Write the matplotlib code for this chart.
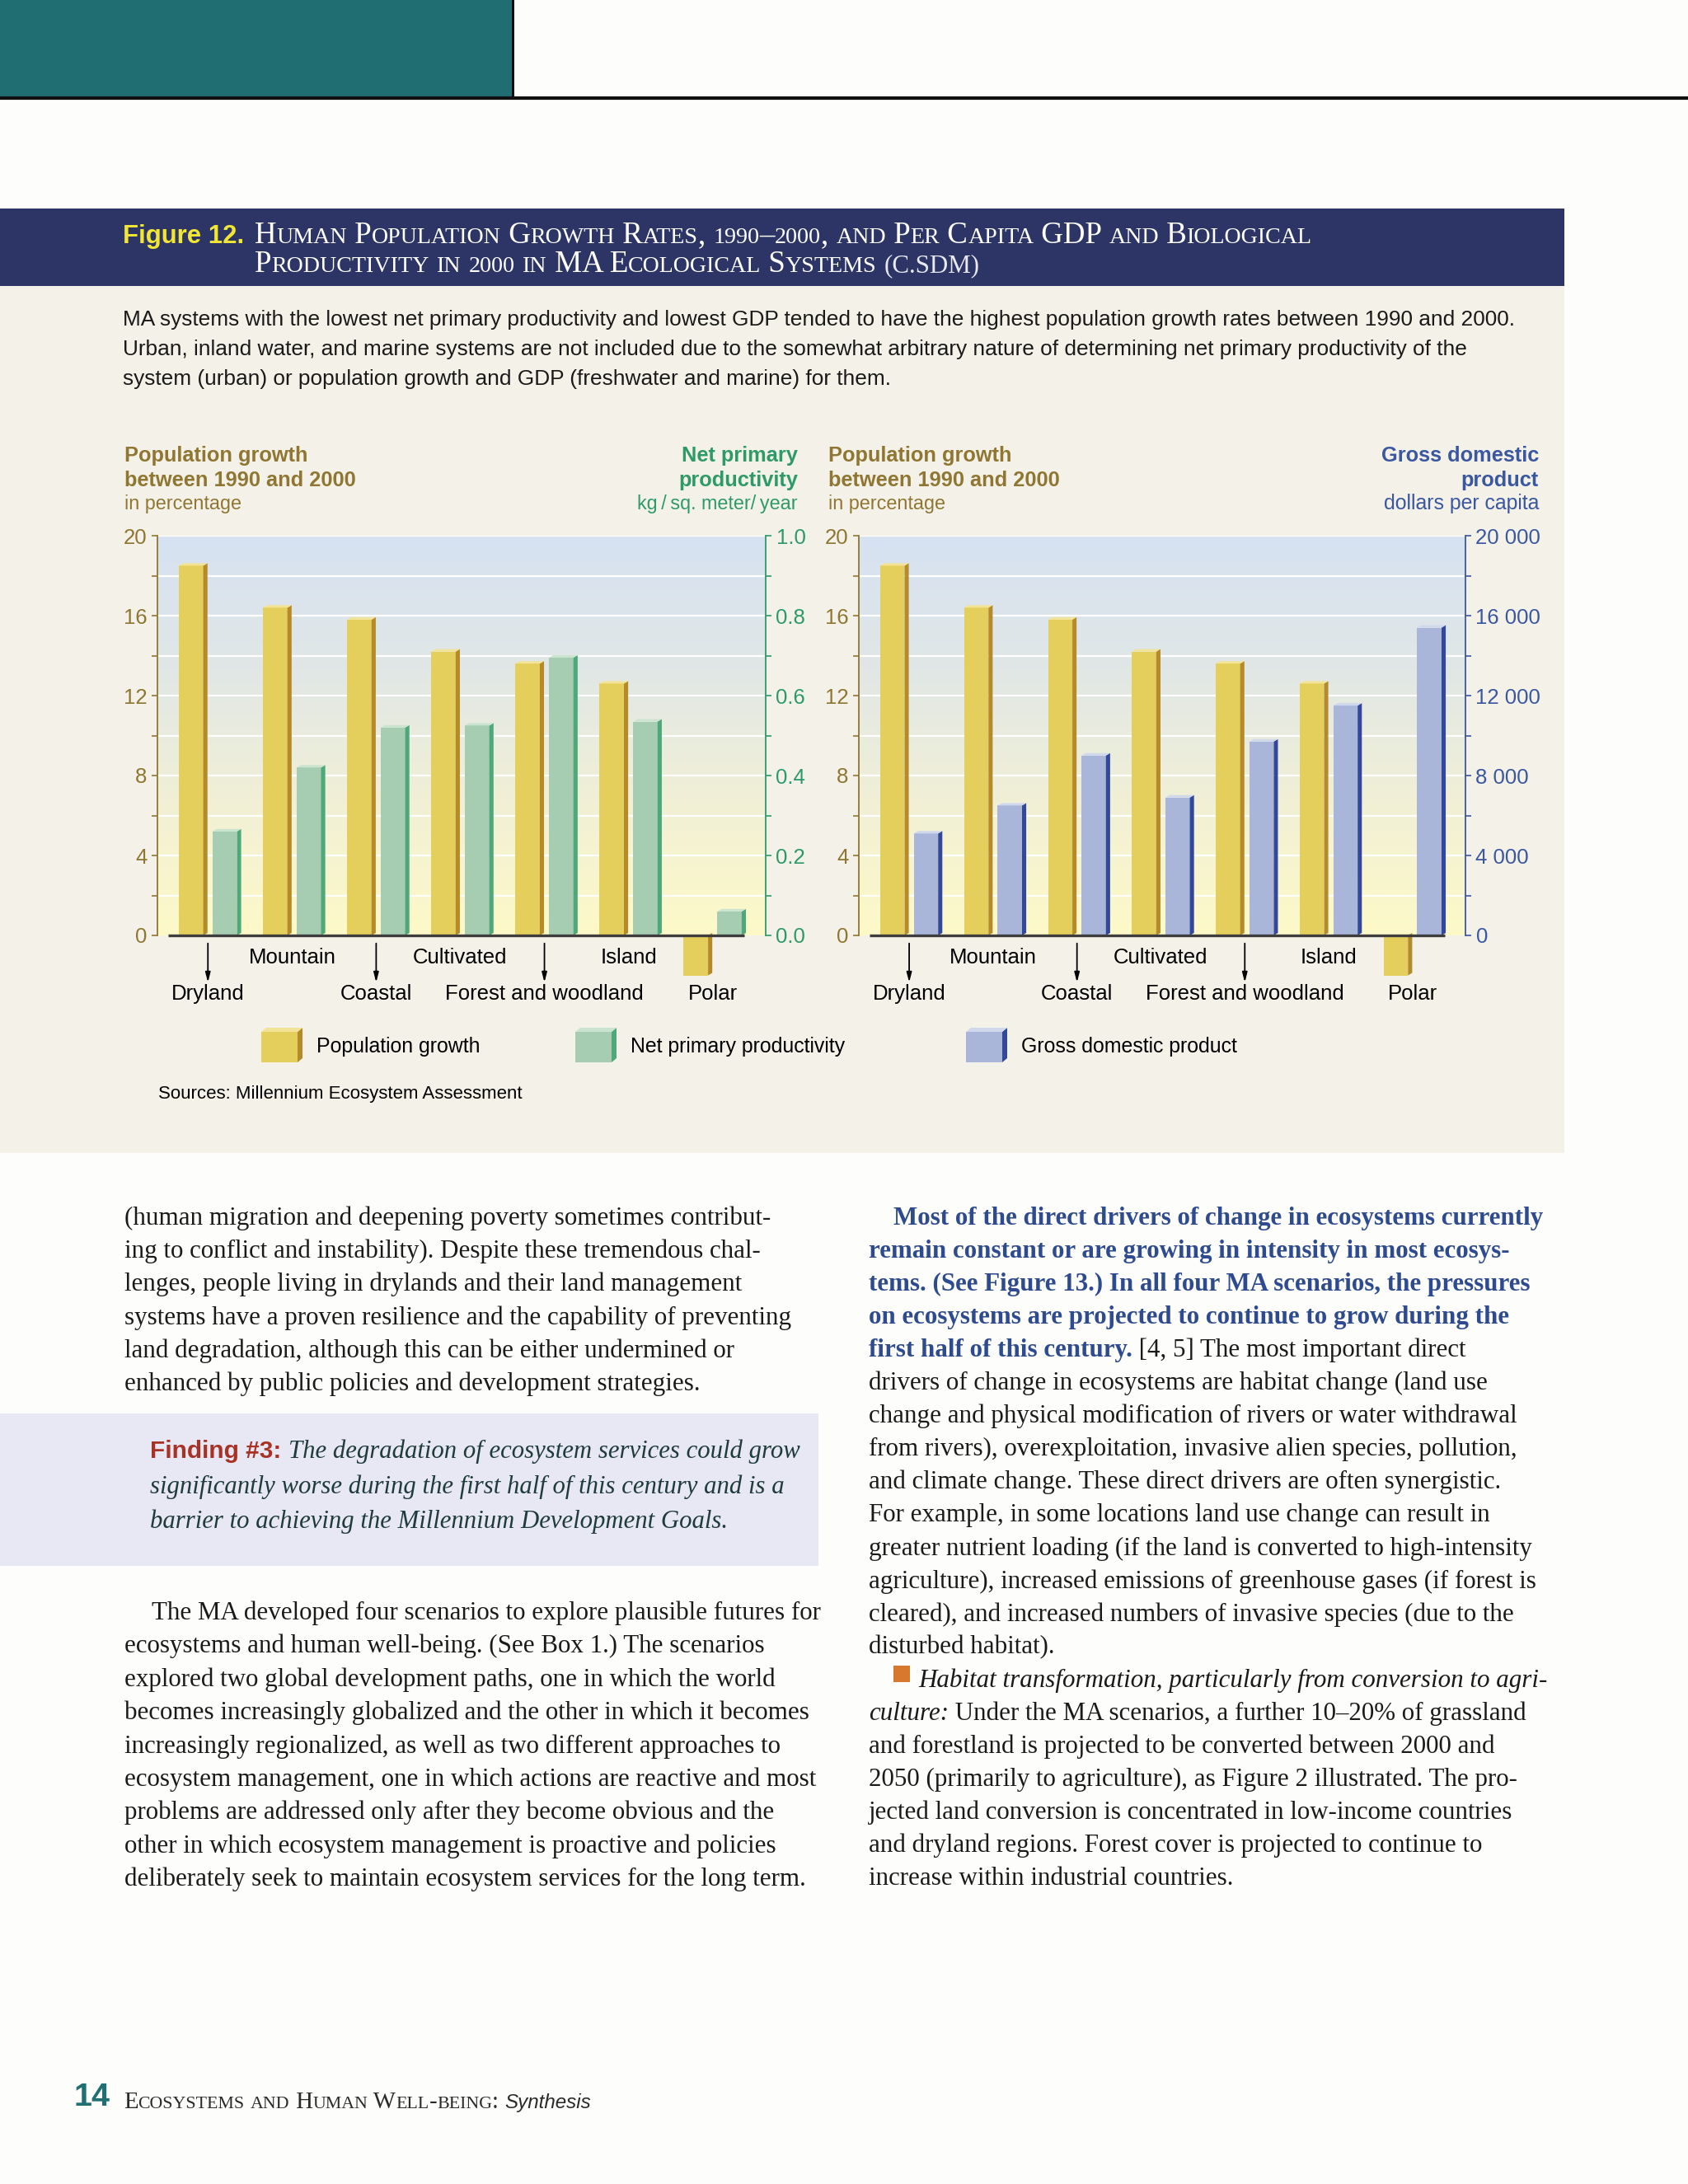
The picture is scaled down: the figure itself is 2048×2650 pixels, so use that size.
import numpy as np
import matplotlib.pyplot as plt
from matplotlib.colors import LinearSegmentedColormap
from matplotlib.patches import Rectangle
from matplotlib.ticker import FixedLocator, FuncFormatter

# ---- data ----
systems = ['Dryland', 'Mountain', 'Coastal', 'Cultivated',
           'Forest and woodland', 'Island', 'Polar']
pop_growth = [18.5, 16.4, 15.8, 14.2, 13.6, 12.6, -2.0]      # percent
npp = [0.26, 0.42, 0.52, 0.525, 0.695, 0.535, 0.06]         # kg/sq. meter/year
gdp = [5100, 6500, 9000, 6900, 9700, 11500, 15400]          # dollars per capita
lower_row = [True, False, True, False, True, False, True]
has_arrow = [True, False, True, False, True, False, False]

SANS = 'Liberation Sans'
SERIF = 'Liberation Serif'
OLIVE = '#8f7632'
GREEN = '#2e9a68'
BLUE = '#3a57a0'
TXT = '#1a1a1a'

YEL = ('#e5cf5c', '#b48a2a', '#f2e397')
GRN = ('#a6ccb1', '#4fa87a', '#cae4d0')
BLU = ('#a9b6da', '#33489a', '#d0d8ee')

fig = plt.figure(figsize=(20.48, 26.5), dpi=100)
fig.patch.set_facecolor('#fdfefc')
page = fig.add_axes([0, 0, 1, 1])
page.set_xlim(0, 2048)
page.set_ylim(2650, 0)
page.axis('off')
R = fig.canvas.get_renderer()


def adv(s, **kw):
    t = page.text(0, 0, '|' + s + '|', **kw)
    t0 = page.text(0, 0, '||', **kw)
    w = t.get_window_extent(R).width - t0.get_window_extent(R).width
    t.remove()
    t0.remove()
    return w


def fit(s, width, **kw):
    return 10 * width / adv(s, fontsize=10, **kw)


def runs(x, y, parts):
    for s, kw in parts:
        page.text(x, y, s, va='baseline', ha='left', **kw)
        x += adv(s, **kw)
    return x


def small_caps(s, big, small, **kw):
    parts = []
    for ch in s:
        sz = small if (ch.islower() or ch.isdigit()) else big
        c = ch.upper()
        if parts and parts[-1][1] == sz:
            parts[-1] = (parts[-1][0] + c, sz)
        else:
            parts.append((c, sz))
    return [(t, dict(fontsize=sz, **kw)) for t, sz in parts]


# ---- page furniture ----
page.add_patch(Rectangle((0, 0), 622, 118, fc='#216e72', ec='none'))
page.plot([622, 622], [0, 118], color='black', lw=2)
page.plot([0, 2048], [119, 119], color='#111111', lw=3)
page.add_patch(Rectangle((0, 253), 1898, 94, fc='#2c3566', ec='none'))
page.add_patch(Rectangle((0, 347), 1898, 1052, fc='#f4f2e8', ec='none'))
page.add_patch(Rectangle((0, 1715), 993, 185, fc='#e7e8f4', ec='none'))

# banner title
fsz = fit('Figure 12.', 148, family=SANS, fontweight='bold')
runs(149, 295, [('Figure 12.', dict(family=SANS, fontweight='bold', fontsize=fsz, color='#f1e634'))])
t1 = 'Human Population Growth Rates, 1990\u20132000, and Per Capita GDP and Biological'
base = sum(adv(s, **k) for s, k in small_caps(t1, 10, 7.6, family=SERIF))
k = 1279 / base
runs(309, 295, small_caps(t1, 10 * k, 7.6 * k, family=SERIF, color='white'))
x = runs(309, 330, small_caps('Productivity in 2000 in MA Ecological Systems ', 10 * k, 7.6 * k,
                               family=SERIF, color='white'))
runs(x, 330, [('(C.SDM)', dict(family=SERIF, fontsize=8.4 * k, color='#e8e8f0'))])

# caption
cap = ['MA systems with the lowest net primary productivity and lowest GDP tended to have the highest population growth rates between 1990 and 2000.',
       'Urban, inland water, and marine systems are not included due to the somewhat arbitrary nature of determining net primary productivity of the',
       'system (urban) or population growth and GDP (freshwater and marine) for them.']
csz = fit(cap[0], 1696, family=SANS)
for i, line in enumerate(cap):
    page.text(149, 395 + 36 * i, line, family=SANS, fontsize=csz, color=TXT, va='baseline')

# ---- charts ----
bg = LinearSegmentedColormap.from_list('bg', ['#fdf9c8', '#f1f0d6', '#e1e7e6', '#d6e2f2'])
grad = np.linspace(1, 0, 256).reshape(-1, 1)
XL = (-0.6, 6.63)


def bars3d(ax, xs, hs, ymax, cols):
    w = 0.29
    dx = 0.05
    dy = 0.0062 * ymax
    ax.bar(xs, hs, width=w, color=cols[0], zorder=3, clip_on=False)
    for xc, h in zip(xs, hs):
        xl, xr = xc - w / 2, xc + w / 2
        lo, hi = min(h, 0), max(h, 0)
        ax.fill([xr, xr, xr + dx, xr + dx], [lo, hi, hi + dy, lo + dy],
                color=cols[1], zorder=3, clip_on=False, lw=0)
        if h > 0:
            ax.fill([xl, xl + dx, xr + dx, xr], [h, h + dy, h + dy, h],
                    color=cols[2], zorder=3, clip_on=False, lw=0)


def chart(left, width, second, ymax2, cols, col2, ticks2, fmt2):
    ax = fig.add_axes([left / 2048, 1 - 1135 / 2650, width / 2048, 485 / 2650])
    ax.imshow(grad, extent=(XL[0], XL[1], 0, 20), aspect='auto', cmap=bg, zorder=0)
    ax.set_xlim(*XL)
    ax.set_ylim(0, 20)
    for g in np.arange(2, 21, 2):
        ax.axhline(g, color='white', lw=1.6, zorder=1)
    ax2 = ax.twinx()
    ax2.set_ylim(0, ymax2)
    x = np.arange(len(systems))
    bars3d(ax, x - 0.2, pop_growth, 20, YEL)
    bars3d(ax2, x + 0.2, second, ymax2, cols)
    ax2.plot([x[0] - 0.47, x[-1] + 0.38], [0, 0], color='#3d3d3d', lw=2.4,
             solid_capstyle='butt', clip_on=False, zorder=6)

    for s in ['top', 'right', 'bottom']:
        ax.spines[s].set_visible(False)
    for s in ['top', 'left', 'bottom']:
        ax2.spines[s].set_visible(False)
    ax.spines['left'].set_color(OLIVE)
    ax.spines['left'].set_linewidth(1.3)
    ax2.spines['right'].set_color(col2)
    ax2.spines['right'].set_linewidth(1.3)
    ax.set_xticks([])
    ax.yaxis.set_major_locator(FixedLocator([0, 4, 8, 12, 16, 20]))
    ax.yaxis.set_minor_locator(FixedLocator([2, 6, 10, 14, 18]))
    ax.tick_params(axis='y', which='both', direction='out', length=5, width=1.2,
                   colors=OLIVE, labelsize=18.5, pad=4)
    ax2.yaxis.set_major_locator(FixedLocator(ticks2[0]))
    ax2.yaxis.set_minor_locator(FixedLocator(ticks2[1]))
    ax2.yaxis.set_major_formatter(FuncFormatter(fmt2))
    ax2.tick_params(axis='y', which='both', direction='out', length=5, width=1.2,
                    colors=col2, labelsize=18.5, pad=4)
    for lab in ax.get_yticklabels() + ax2.get_yticklabels():
        lab.set_family(SANS)

    for i, name in enumerate(systems):
        yy = -2.93 if lower_row[i] else -1.11
        ax.text(i, yy, name, ha='center', va='center', fontsize=18.5,
                family=SANS, color='black')
        if has_arrow[i]:
            ax.annotate('', xy=(i, -2.35), xytext=(i, -0.4),
                        arrowprops=dict(arrowstyle='-|>,head_length=0.7,head_width=0.18',
                                        color='black', lw=1.3, shrinkA=0, shrinkB=0),
                        annotation_clip=False)
    return ax, ax2


chart(191, 738, npp, 1.0, GRN, GREEN,
      ([0, 0.2, 0.4, 0.6, 0.8, 1.0], [0.1, 0.3, 0.5, 0.7, 0.9]),
      lambda v, p: f'{v:.1f}')
chart(1042, 736, gdp, 20000, BLU, BLUE,
      ([0, 4000, 8000, 12000, 16000, 20000], [2000, 6000, 10000, 14000, 18000]),
      lambda v, p: f'{int(v):,}'.replace(',', ' '))

# chart headers
hsz = fit('between 1990 and 2000', 281, family=SANS, fontweight='bold')
hb = dict(family=SANS, fontweight='bold', fontsize=hsz, va='baseline')
hr = dict(family=SANS, fontsize=hsz * 0.92, va='baseline')
for x0 in (151, 1005):
    page.text(x0, 560, 'Population growth', color=OLIVE, **hb)
    page.text(x0, 590, 'between 1990 and 2000', color=OLIVE, **hb)
    page.text(x0, 618, 'in percentage', color=OLIVE, **hr)
page.text(968, 560, 'Net primary', color=GREEN, ha='right', **hb)
page.text(968, 590, 'productivity', color=GREEN, ha='right', **hb)
page.text(968, 618, 'kg\u2009/\u2009sq. meter/\u2009year', color=GREEN, ha='right', **hr)
page.text(1867, 560, 'Gross domestic', color=BLUE, ha='right', **hb)
page.text(1867, 590, 'product', color=BLUE, ha='right', **hb)
page.text(1867, 618, 'dollars per capita', color=BLUE, ha='right',
          **dict(hr, fontsize=hsz * 0.98))

# legend
lsz = fit('Population growth', 200, family=SANS)
for x0, cols, name in [(317, YEL, 'Population growth'),
                       (698, GRN, 'Net primary productivity'),
                       (1172, BLU, 'Gross domestic product')]:
    page.add_patch(Rectangle((x0, 1252), 44, 37, fc=cols[0], ec='none'))
    page.fill([x0 + 44, x0 + 44, x0 + 50, x0 + 50], [1289, 1252, 1247, 1284], color=cols[1], lw=0)
    page.fill([x0, x0 + 6, x0 + 50, x0 + 44], [1252, 1247, 1247, 1252], color=cols[2], lw=0)
    page.text(x0 + 67, 1270, name, family=SANS, fontsize=lsz, va='center', color='black')
ssz = fit('Sources: Millennium Ecosystem Assessment', 441, family=SANS)
page.text(192, 1328, 'Sources: Millennium Ecosystem Assessment', family=SANS,
          fontsize=ssz, va='center', color='black')

# ---- body text ----
bsz = fit('ecosystem management, one in which actions are reactive and most', 841, family=SERIF)
body = dict(family=SERIF, fontsize=bsz, color=TXT)
ital = dict(family=SERIF, fontsize=bsz, color=TXT, fontstyle='italic')
blue_b = dict(family=SERIF, fontsize=bsz, color='#2f4b8f', fontweight='bold')

left1 = ['(human migration and deepening poverty sometimes contribut-',
         'ing to conflict and instability). Despite these tremendous chal-',
         'lenges, people living in drylands and their land management',
         'systems have a proven resilience and the capability of preventing',
         'land degradation, although this can be either undermined or',
         'enhanced by public policies and development strategies.']
for i, line in enumerate(left1):
    runs(151, 1486 + 40.2 * i, [(line, body)])

left2 = ['The MA developed four scenarios to explore plausible futures for',
         'ecosystems and human well-being. (See Box 1.) The scenarios',
         'explored two global development paths, one in which the world',
         'becomes increasingly globalized and the other in which it becomes',
         'increasingly regionalized, as well as two different approaches to',
         'ecosystem management, one in which actions are reactive and most',
         'problems are addressed only after they become obvious and the',
         'other in which ecosystem management is proactive and policies',
         'deliberately seek to maintain ecosystem services for the long term.']
for i, line in enumerate(left2):
    runs(184 if i == 0 else 151, 1965 + 40.4 * i, [(line, body)])

# finding box
fi = fit('significantly worse during the first half of this century and is a', 772,
         family=SERIF, fontstyle='italic')
fit_i = dict(family=SERIF, fontsize=fi, color='#1f3b3b', fontstyle='italic')
frsz = fit('Finding #3:', 160, family=SANS, fontweight='bold')
runs(182, 1769, [('Finding #3: ', dict(family=SANS, fontweight='bold', fontsize=frsz, color='#a83224')),
                 ('The degradation of ecosystem services could grow', fit_i)])
runs(182, 1812, [('significantly worse during the first half of this century and is a', fit_i)])
runs(182, 1854, [('barrier to achieving the Millennium Development Goals.', fit_i)])

# right column
rb = [[('Most of the direct drivers of change in ecosystems currently', blue_b)],
      [('remain constant or are growing in intensity in most ecosys-', blue_b)],
      [('tems. (See Figure 13.) In all four MA scenarios, the pressures', blue_b)],
      [('on ecosystems are projected to continue to grow during the', blue_b)],
      [('first half of this century.', blue_b), (' [4, 5] The most important direct', body)],
      [('drivers of change in ecosystems are habitat change (land use', body)],
      [('change and physical modification of rivers or water withdrawal', body)],
      [('from rivers), overexploitation, invasive alien species, pollution,', body)],
      [('and climate change. These direct drivers are often synergistic.', body)],
      [('For example, in some locations land use change can result in', body)],
      [('greater nutrient loading (if the land is converted to high-intensity', body)],
      [('agriculture), increased emissions of greenhouse gases (if forest is', body)],
      [('cleared), and increased numbers of invasive species (due to the', body)],
      [('disturbed habitat).', body)],
      [('Habitat transformation, particularly from conversion to agri-', ital)],
      [('culture:', ital), (' Under the MA scenarios, a further 10\u201320% of grassland', body)],
      [('and forestland is projected to be converted between 2000 and', body)],
      [('2050 (primarily to agriculture), as Figure 2 illustrated. The pro-', body)],
      [('jected land conversion is concentrated in low-income countries', body)],
      [('and dryland regions. Forest cover is projected to continue to', body)],
      [('increase within industrial countries.', body)]]
for i, parts in enumerate(rb):
    y = 1486 + 40.05 * i
    x0 = 1054
    if i == 0:
        x0 = 1084
    if i == 14:
        page.add_patch(Rectangle((1084, y - 26), 20, 20, fc='#d8782e', ec='none'))
        x0 = 1114
    runs(x0, y, parts)

# footer
page.text(90, 2545, '14', family=SANS, fontweight='bold', fontsize=fit('14', 44, family=SANS, fontweight='bold'),
          color='#1f6f73', va='center')
ft = 'Ecosystems and Human Well-being: '
fpart = small_caps(ft, 10, 7.6, family=SERIF)
fb = sum(adv(s, **k) for s, k in fpart) + adv('Synthesis', family=SANS, fontstyle='italic', fontsize=8.4)
fk = 563 / fb
x = runs(150, 2558, small_caps(ft, 10 * fk, 7.6 * fk, family=SERIF, color='#2a2a2a'))
runs(x, 2558, [('Synthesis', dict(family=SANS, fontstyle='italic', fontsize=8.4 * fk, color='#2a2a2a'))])

fig.savefig('out.png', dpi=100, facecolor=fig.get_facecolor())
